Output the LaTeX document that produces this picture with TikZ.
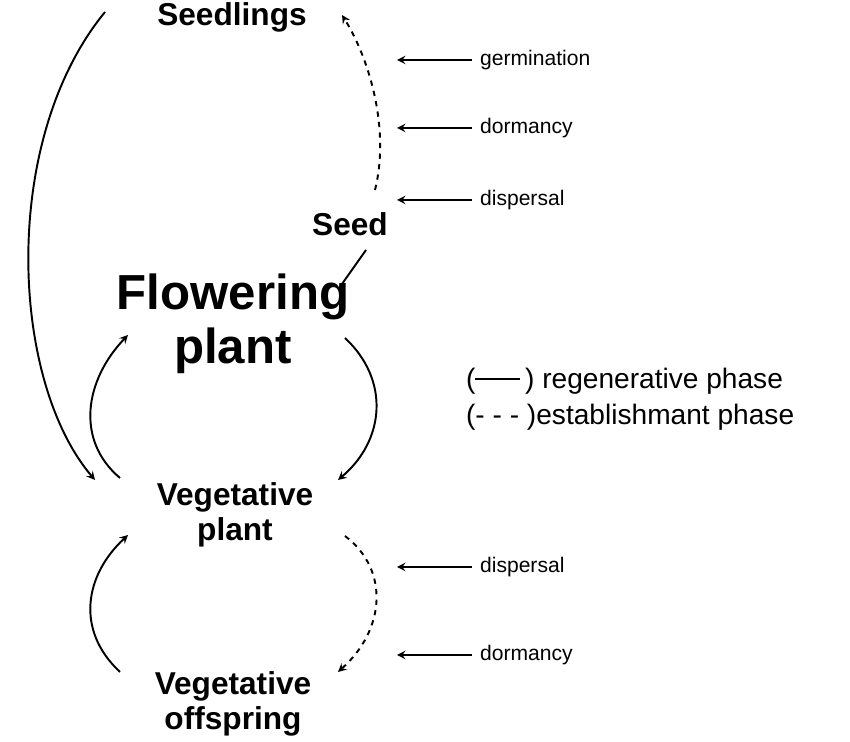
\documentclass[tikz,border=0pt]{standalone}
\usepackage{fontspec}
\setmainfont{Liberation Sans}
\usetikzlibrary{arrows}
\tikzstyle{stage} = [font=\bfseries\fontsize{18}{20}\selectfont, align=center, inner sep=1pt]
\tikzstyle{phaselabel} = [font=\fontsize{12}{14}\selectfont, anchor=west, inner sep=1pt]
\tikzstyle{arrow} = [line width=1.1pt,->,>=stealth]
\tikzstyle{dasharrow} = [line width=1.1pt,->,>=stealth,dashed]
\begin{document}
\begin{tikzpicture}[x=0.02cm,y=-0.02cm]
\useasboundingbox (0,0) rectangle (850,742);

% Nodes
\node (seedlings) [stage] at (232,17) {Seedlings};
\node (seed) [stage] at (350,224) {Seed};
\node (flowering) [stage, font=\bfseries\fontsize{28}{31}\selectfont] at (233,324) {Flowering\\plant};
\node (vegplant) [stage] at (235,515) {Vegetative\\plant};
\node (offspring) [stage] at (233,704) {Vegetative\\offspring};

\node (germination) [phaselabel] at (478,60) {germination};
\node (dormancy) [phaselabel] at (478,128) {dormancy};
\node (dispersal) [phaselabel] at (478,200) {dispersal};
\node (dispersal2) [phaselabel] at (478,567) {dispersal};
\node (dormancy2) [phaselabel] at (478,655) {dormancy};
\node (regen) [phaselabel, font=\fontsize{16}{18}\selectfont] at (464,381) {(\rule[0.3em]{1.6em}{1.2pt}\,) regenerative phase};
\node (estab) [phaselabel, font=\fontsize{16}{18}\selectfont] at (464,417) {(- - - )establishmant phase};

% Coordinates for the curve ends
\coordinate (a1) at (105,12);
\coordinate (a2) at (95,480);
\coordinate (b1) at (375,190);
\coordinate (b2) at (342,15);
\coordinate (c1) at (342,284);
\coordinate (c2) at (366,250);
\coordinate (d1) at (345,338);
\coordinate (d2) at (338,480);
\coordinate (e1) at (120,478);
\coordinate (e2) at (128,335);
\coordinate (f1) at (345,536);
\coordinate (f2) at (338,672);
\coordinate (g1) at (120,672);
\coordinate (g2) at (128,535);

% Arrows
\draw [arrow] (a1) .. controls (0,140) and (10,380) .. (a2);
\draw [dasharrow] (b1) .. controls (390,130) and (370,60) .. (b2);
\draw [line width=1.1pt] (c1) -- (c2);
\draw [arrow] (d1) .. controls (390,380) and (385,440) .. (d2);
\draw [arrow] (e1) .. controls (75,440) and (85,380) .. (e2);
\draw [dasharrow] (f1) .. controls (390,570) and (385,630) .. (f2);
\draw [arrow] (g1) .. controls (75,630) and (85,575) .. (g2);
\foreach \n/\y in {germination/60, dormancy/128, dispersal/200, dispersal2/567, dormancy2/655}
  \draw [arrow] (\n.west) ++(-6,0) -- (397,\y);
\end{tikzpicture}
\end{document}
